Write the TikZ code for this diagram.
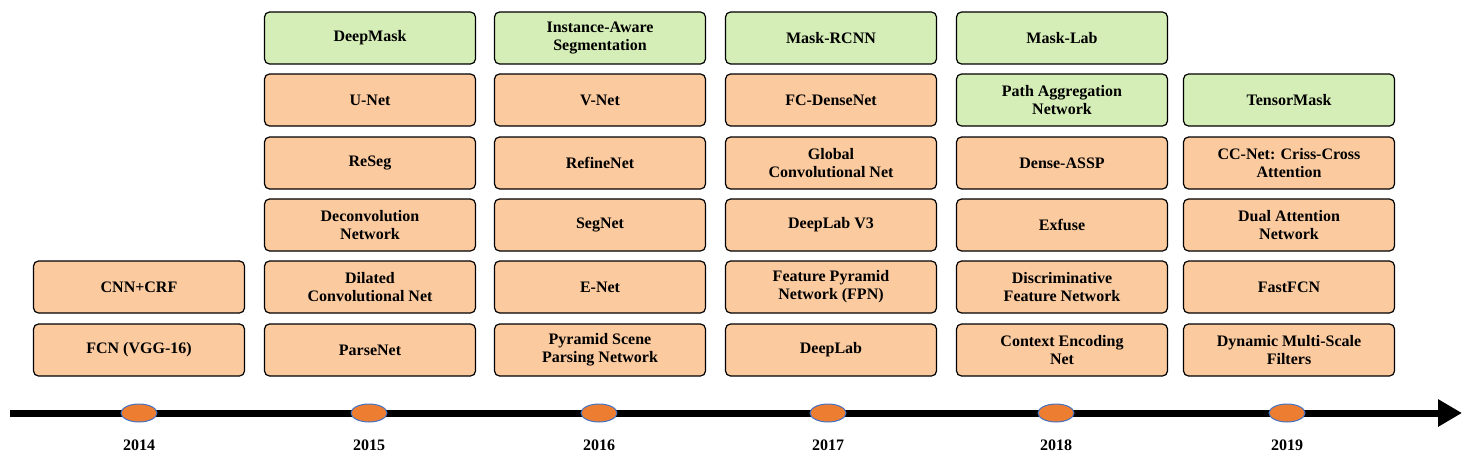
\documentclass[tikz,border=0pt]{standalone}
\usepackage{fontspec}
\setmainfont{Liberation Serif}
\usetikzlibrary{arrows.meta}
\definecolor{org}{HTML}{FBCA9F}
\definecolor{grn}{HTML}{D5EDB6}
\definecolor{dot}{HTML}{ED7D31}
\definecolor{dotb}{HTML}{4472C4}
\tikzset{
 box/.style={draw=black, line width=1.2pt, rounded corners=5pt, minimum width=211pt, minimum height=52pt, align=center, font=\fontsize{16}{18}\selectfont\bfseries, inner sep=1pt},
 obox/.style={box, fill=org},
 gbox/.style={box, fill=grn},
 yr/.style={draw=dotb, line width=1pt, fill=dot, ellipse, minimum width=36pt, minimum height=18pt, inner sep=0pt},
 ylab/.style={font=\fontsize{16}{18}\selectfont\bfseries}
}
\usetikzlibrary{shapes.geometric}
\begin{document}
\begin{tikzpicture}[x=1pt,y=-1pt]
\useasboundingbox (0,0) rectangle (1466,460);
% column x centers
\def\ca{139}\def\cb{370}\def\cc{600}\def\cd{831}\def\ce{1062}\def\cf{1289}
\coordinate (ls) at (10,413);
\coordinate (le) at (1462,413);
\draw[line width=7pt, -{Triangle[length=24pt,width=26pt]}] (ls) -- (le);
\foreach \x/\y/\n in {139/2014/a,369/2015/b,599/2016/c,828/2017/d,1056/2018/e,1287/2019/f}{
 \node[yr] (d\n) at (\x,413) {};
 \node[ylab] (y\n) at (\x,445) {\y};
}
% col 1
\node[obox] (a5) at (\ca,287) {CNN+CRF};
\node[obox] (a6) at (\ca,350) {FCN (VGG-16)};
% col 2
\node[gbox] (b1) at (\cb,38) {DeepMask};
\node[obox] (b2) at (\cb,100) {U-Net};
\node[obox] (b3) at (\cb,163) {ReSeg};
\node[obox] (b4) at (\cb,225) {Deconvolution\\Network};
\node[obox] (b5) at (\cb,287) {Dilated\\Convolutional Net};
\node[obox] (b6) at (\cb,350) {ParseNet};
% col 3
\node[gbox] (c1) at (\cc,38) {Instance-Aware\\Segmentation};
\node[obox] (c2) at (\cc,100) {V-Net};
\node[obox] (c3) at (\cc,163) {RefineNet};
\node[obox] (c4) at (\cc,225) {SegNet};
\node[obox] (c5) at (\cc,287) {E-Net};
\node[obox] (c6) at (\cc,350) {Pyramid Scene\\Parsing Network};
% col 4
\node[gbox] (e1) at (\cd,38) {Mask-RCNN};
\node[obox] (e2) at (\cd,100) {FC-DenseNet};
\node[obox] (e3) at (\cd,163) {Global\\Convolutional Net};
\node[obox] (e4) at (\cd,225) {DeepLab V3};
\node[obox] (e5) at (\cd,287) {Feature Pyramid\\Network (FPN)};
\node[obox] (e6) at (\cd,350) {DeepLab};
% col 5
\node[gbox] (f1) at (\ce,38) {Mask-Lab};
\node[gbox] (f2) at (\ce,100) {Path Aggregation\\Network};
\node[obox] (f3) at (\ce,163) {Dense-ASSP};
\node[obox] (f4) at (\ce,225) {Exfuse};
\node[obox] (f5) at (\ce,287) {Discriminative\\Feature Network};
\node[obox] (f6) at (\ce,350) {Context Encoding\\Net};
% col 6
\node[gbox] (g2) at (\cf,100) {TensorMask};
\node[obox] (g3) at (\cf,163) {CC-Net: Criss-Cross\\Attention};
\node[obox] (g4) at (\cf,225) {Dual Attention\\Network};
\node[obox] (g5) at (\cf,287) {FastFCN};
\node[obox] (g6) at (\cf,350) {Dynamic Multi-Scale\\Filters};
\end{tikzpicture}
\end{document}
